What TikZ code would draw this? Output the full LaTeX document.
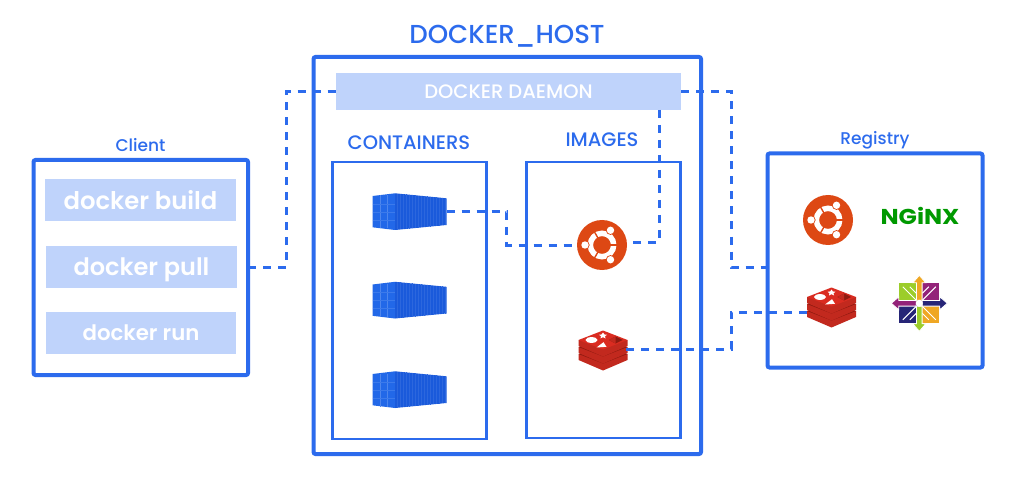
\documentclass[tikz,border=0pt]{standalone}
\usepackage{fontspec}
\usepackage{graphicx}
\setmainfont{Poppins}
\newfontfamily\popmed{Poppins Medium}
\newfontfamily\popsemi{Poppins SemiBold}
\usetikzlibrary{calc}
\definecolor{dkblue}{HTML}{2C6BED}
\definecolor{dklight}{HTML}{BFD3FB}
\definecolor{ubu}{HTML}{DD4814}
\definecolor{redtop}{HTML}{DA2C21}
\definecolor{redside}{HTML}{C2291E}
\definecolor{reddark}{HTML}{8F1A10}
\definecolor{conA}{HTML}{2268E8}
\definecolor{conB}{HTML}{1A5ADB}
\definecolor{cgreen}{HTML}{9CCD2A}
\definecolor{cpurple}{HTML}{932279}
\definecolor{corange}{HTML}{EFA724}
\definecolor{cnavy}{HTML}{262577}
\newcommand{\fs}[1]{\fontsize{#1}{#1}\selectfont}
\tikzset{
  frame/.style={draw=dkblue,line width=4,fill=white,rounded corners=2,inner sep=0,outer sep=0,anchor=north west},
  thinbox/.style={draw=dkblue,line width=2.5,fill=white,inner sep=0,outer sep=0,anchor=north west},
  cmdbox/.style={fill=dklight,text=white,inner sep=0,outer sep=0,anchor=north west,text depth=0pt},
  title/.style={text=dkblue,inner sep=0,text depth=0pt},
  link/.style={draw=dkblue,line width=3,dash pattern=on 8pt off 7pt},
  logo/.style={inner sep=0,outer sep=0},
  ubuntu/.pic={
    \fill[ubu] (0,0) circle (25);
    \draw[white,line width=5.5] (0,0) circle (11.7);
    \foreach \a in {0,120,240}
      \draw[ubu,line width=1.4] (\a:8) -- (\a:15.5);
    \foreach \a in {180,60,-60}{
      \fill[ubu] (\a:17) circle (4.6);
      \fill[white] (\a:17) circle (3.7);
    }
  },
  redislogo/.pic={
    \foreach \d/\c in {14/reddark,7/reddark,0/redtop}{
      \fill[redside] (-24.5,\d) -- (-24.5,\d+6) -- (0,\d+16.5) -- (24.5,\d+6) -- (24.5,\d) -- cycle;
      \fill[\c] (-24.5,\d) -- (0,\d-9.5) -- (24.5,\d) -- (0,\d+9.5) -- cycle;
    }
    \fill[white] (-11.5,0) ellipse (6 and 2.9);
    \fill[white] (0,-7.5) -- (1.3,-5.6) -- (4,-5.2) -- (2,-3.7) -- (2.5,-1.5) -- (0,-2.8) -- (-2.5,-1.5) -- (-2,-3.7) -- (-4,-5.2) -- (-1.3,-5.6) -- cycle;
    \fill[white] (-6.5,7.5) -- (3.5,6.8) -- (0.5,2.2) -- cycle;
    \fill[reddark] (6,0) -- (12.5,-3.5) -- (19.5,0) -- (12.5,3.5) -- cycle;
    \fill[redside] (6,0) -- (12.5,-3.5) -- (12.5,3.5) -- cycle;
  },
  container/.pic={
    \fill[conA] (-37,-16) -- (-14.5,-18.7) -- (-14.5,18) -- (-37,15.3) -- cycle;
    \fill[conB] (-14.5,-18.7) -- (37,-13.7) -- (37,13) -- (-14.5,18) -- cycle;
    \foreach \x in {-12,-9,...,36}
      \draw[conB!92!white,line width=.35] (\x,{-18.7+(\x+14.5)*0.097}) -- (\x,{18-(\x+14.5)*0.097});
    \foreach \x in {-29,-22}
      \draw[conA!80!white,line width=.9] (\x,-16.5) -- (\x,16.5);
    \foreach \y in {-8,0,8}
      \draw[conA!88!white,line width=.4] (-37,\y) -- (-14.5,\y);
  },
  centos/.pic={
    \fill[white] (-22,-22) rectangle (22,22);
    \foreach \sx/\sy/\c in {1/1/corange,-1/1/cnavy,-1/-1/cgreen,1/-1/cpurple}{
      \begin{scope}[xscale=\sx,yscale=\sy]
        \fill[\c] (1.8,1.8) rectangle (20,20);
        \draw[white,line width=1] (3,3) -- (16.5,16.5);
        \draw[white,line width=1] (3,10) -- (9.5,16.5);
      \end{scope}
    }
    \fill[corange,draw=white,line width=.8] (0,-28) -- (-6.5,-20.5) -- (-2.8,-20.5) -- (-2.8,-3) -- (2.8,-3) -- (2.8,-20.5) -- (6.5,-20.5) -- cycle;
    \fill[cnavy,draw=white,line width=.8] (28,0) -- (20.5,-6.5) -- (20.5,-2.8) -- (3,-2.8) -- (3,2.8) -- (20.5,2.8) -- (20.5,6.5) -- cycle;
    \fill[cgreen,draw=white,line width=.8] (0,28) -- (-6.5,20.5) -- (-2.8,20.5) -- (-2.8,3) -- (2.8,3) -- (2.8,20.5) -- (6.5,20.5) -- cycle;
    \fill[cpurple,draw=white,line width=.8] (-28,0) -- (-20.5,-6.5) -- (-20.5,-2.8) -- (-3,-2.8) -- (-3,2.8) -- (-20.5,2.8) -- (-20.5,6.5) -- cycle;
    \fill[white] (0,0) circle (3.4);
  }
}
\begin{document}
\begin{tikzpicture}[x=1pt,y=-1pt]
\useasboundingbox (0,0) rectangle (1024,478);
% frames
\node[frame,minimum width=214.5,minimum height=215] (client) at (33.5,160) {};
\node[frame,minimum width=387.5,minimum height=397] (host) at (313.5,57) {};
\node[frame,minimum width=215,minimum height=214] (registry) at (767.5,153.5) {};
\node[thinbox,minimum width=154,minimum height=277] (contbox) at (332.5,162) {};
\node[thinbox,minimum width=154,minimum height=276] (imgbox) at (526.5,162) {};
% titles
\node[title,font=\popmed\fs{26}] (hosttitle) at (507,34.5) {DOCKER\_HOST};
\node[title,font=\popmed\fs{17}] (clienttitle) at (140.5,145) {Client};
\node[title,font=\popmed\fs{17}] (regtitle) at (875,138) {Registry};
\node[title,font=\popmed\fs{19.5}] (conttitle) at (409,143) {CONTAINERS};
\node[title,font=\popmed\fs{19.5}] (imgtitle) at (602,140) {IMAGES};
% daemon and commands
\node[fill=dklight,text=white,font=\popmed\fs{19.5},minimum width=345,minimum height=37,inner sep=0,outer sep=0,anchor=north west] (daemon) at (336,73) {DOCKER DAEMON};
\node[cmdbox,font=\popsemi\fs{24.3},minimum width=191,minimum height=42] (build) at (45,179) {docker build};
\node[cmdbox,font=\popsemi\fs{24},minimum width=191,minimum height=42] (pull) at (46,246) {docker pull};
\node[cmdbox,font=\popsemi\fs{21.3},minimum width=190,minimum height=42] (run) at (46,312) {docker run};
% logos
\node[logo,minimum width=74,minimum height=36] (c1) at (409.5,212) {};
\node[logo,minimum width=74,minimum height=36] (c2) at (409.5,300.5) {};
\node[logo,minimum width=74,minimum height=36] (c3) at (409.5,390) {};
\pic at (c1) {container};
\pic at (c2) {container};
\pic at (c3) {container};
\node[logo,minimum width=50,minimum height=50] (ub1) at (602,245) {};
\pic at (ub1) {ubuntu};
\node[logo,minimum width=46,minimum height=40] (rd1) at (603,351) {};
\pic at ($(rd1)+(0,-11)$) {redislogo};
\node[logo,minimum width=50,minimum height=50] (ub2) at (828,220) {};
\pic at (ub2) {ubuntu};
\node[logo,minimum width=46,minimum height=40] (rd2) at (831.5,308) {};
\pic at ($(rd2)+(0,-11)$) {redislogo};
\node[logo,text={green!60!black},font=\bfseries\fs{21.5}] (nginx) at (920,215.5) {\scalebox{1.12}[1]{NGiNX}};
\node[logo,minimum width=54,minimum height=54] (cent) at (919.3,303.3) {};
\pic at (cent) {centos};
% connectors
\draw[link] (client.east |- pull) -- ++(38,0) |- (daemon.west);
\draw[link] (daemon.east) -- ++(50,0) |- (registry.west |- 0,267);
\draw[link] (daemon.south -| 659,0) |- (ub1.east |- 0,242);
\draw[link] (c1.east) -- ++(60,0) |- (ub1.west);
\draw[link] (rd1.east |- 0,349) -- ++(105,0) |- (rd2.west |- 0,312);
\end{tikzpicture}
\end{document}
